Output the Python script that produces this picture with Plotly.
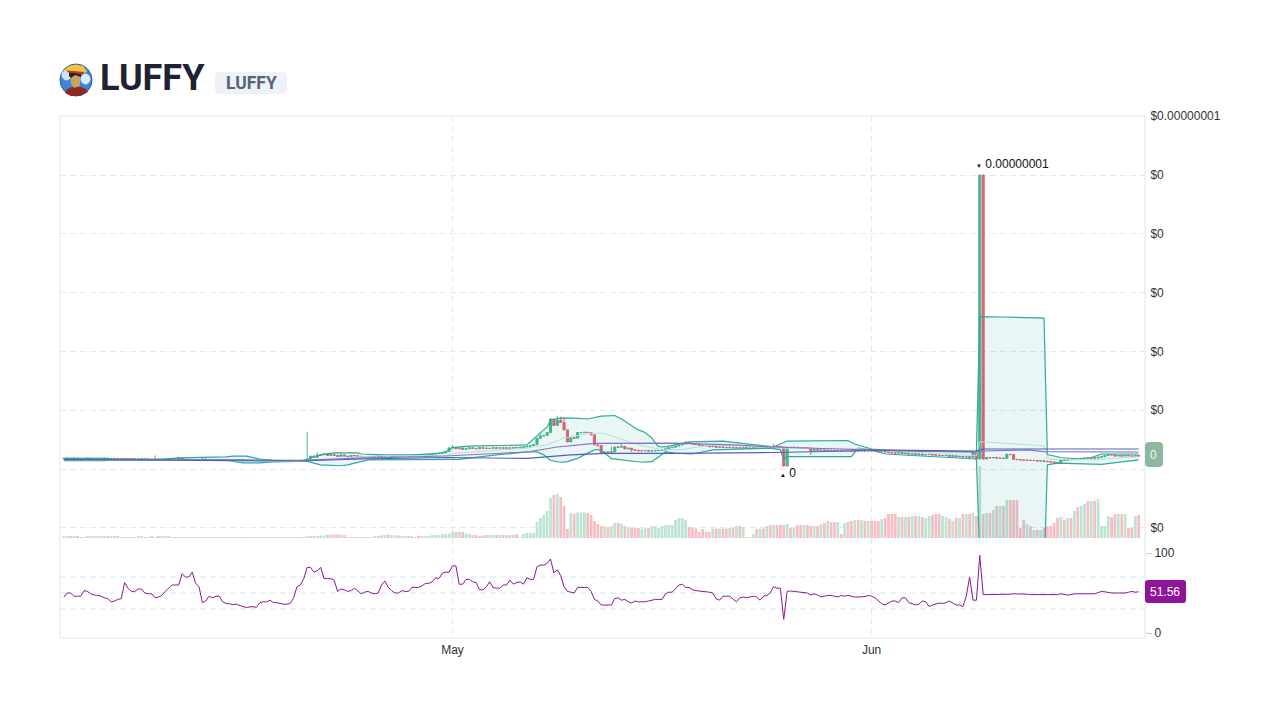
import pandas as pd
import plotly.graph_objects as go

# price values are in units of 1e-10 USD
closes = [
3.6,3.7,3.5,3.7,3.6,3.5,3.6,3.7,3.5,3.6,
3.6,3.5,3.7,3.5,3.6,3.6,3.5,3.4,3.6,3.5,
3.5,3.3,3.4,3.5,3.3,3.4,3.2,3.4,3.3,3.4,
3.3,3.5,3.4,3.2,3.9,3.3,3.2,3.3,3.1,3.2,
3.2,3.4,3.1,3.2,3.1,3.2,3.0,3.2,3.0,3.1,
3.1,3.0,3.2,3.0,2.9,3.0,2.9,3.0,2.8,2.9,
2.9,2.8,2.9,2.7,2.8,2.7,2.8,2.7,2.8,2.7,
2.8,2.7,3.4,4.4,4.0,4.6,4.9,5.2,4.6,4.9,
4.6,4.3,4.8,4.4,4.2,4.6,4.5,4.3,4.2,4.0,
4.2,4.0,4.1,4.4,4.0,4.1,3.9,4.2,4.6,4.4,
4.5,4.6,4.4,4.5,4.7,4.6,4.6,4.8,5.0,5.1,
5.3,5.4,5.5,6.0,7.2,7.4,6.9,7.1,6.7,6.9,
7.2,7.0,6.9,7.2,7.1,7.0,7.0,7.2,7.1,7.2,
7.1,7.2,7.0,7.3,7.2,7.4,7.5,7.7,8.0,8.3,
10.5,11.2,11.4,12.4,17.0,14.8,16.6,15.8,13.3,9.2,
10.6,10.5,12.4,12.4,12.5,12.4,11.6,8.2,8.0,5.5,
5.8,5.7,5.8,7.5,7.4,7.7,6.8,7.1,6.5,6.4,
6.2,6.2,6.3,6.1,6.2,6.2,6.3,6.4,6.9,7.2,
7.4,7.8,8.2,8.5,9.0,8.8,8.5,8.3,8.1,8.0,
7.9,7.6,7.8,7.4,7.5,7.4,7.3,7.4,7.2,7.2,
7.1,7.3,7.0,7.1,7.2,7.0,7.1,7.0,7.2,7.1,
7.8,7.6,7.5,1.0,7.4,7.3,7.4,7.2,7.1,7.2,
7.1,6.2,6.6,6.4,6.5,6.3,6.4,6.3,6.2,6.3,
6.2,6.3,6.2,6.1,6.2,6.1,6.2,6.1,6.2,6.1,
6.0,5.9,6.0,5.8,5.6,5.5,5.4,5.6,5.3,5.4,
5.1,5.2,4.9,5.1,4.8,4.9,5.0,4.8,4.7,4.6,
4.6,4.7,4.3,4.5,4.2,4.3,4.1,4.2,4.0,5.8,
3.4,100.0,3.4,3.9,3.8,3.9,3.7,3.7,3.6,5.0,
4.9,3.3,3.2,3.1,3.0,3.0,2.9,2.9,2.7,2.8,
2.6,2.5,2.4,2.1,2.0,3.1,3.0,3.3,3.2,3.6,
3.4,3.6,3.7,3.6,3.8,3.7,4.0,4.2,4.6,4.9,
4.8,4.4,4.6,4.4,4.7,4.5,4.3,4.6,4.4]
first_open = 3.6
wick_high = {27:4.6, 72:12.7, 75:5.6, 115:8.2, 141:11.8, 144:17.3, 146:18.0, 147:17.8, 148:17.4, 162:7.6, 165:8.4, 184:9.4, 210:8.6, 271:100.0}
wick_low = {145:14.8, 158:7.6, 168:5.8, 221:4.8, 272:3.2, 270:3.2}

volumes = [
1.5,1.5,1.5,1.5,1.5,1,1,1.5,1.5,1.5,
1.5,1.5,1.5,1.5,1.5,1.5,1.5,1,1,.5,
1,1,1.5,1.5,1,1,1.5,1,1.5,1.5,
1.5,1.5,1,1,1,1,.5,.5,.5,.5,
.5,.5,.5,.5,1,1,.5,.5,.5,.5,
.5,.5,.5,.5,.5,.5,.5,1,.5,.5,
.5,.5,.5,.5,.5,.5,.5,.5,.5,.5,
.5,1,1.5,1.5,2,2,2.5,2.5,3,3.5,
3.5,3.5,3.5,3,1,.5,.5,.5,1,1,
1,1,1.5,1.5,2.5,3,3.5,3,2.5,2.5,
2,1.5,1.5,1.5,1,1.5,1.5,2,2,3,
3,3,4,4,4.5,6,6,6.5,6,4.5,
4,3,3,2,2.5,3,3,3,3,3,
3,3,3,3,4,1,4,5,5,5,
16,20,23,27,40,43,44,41,32,9,
25,24,25.5,25.5,25.5,25,23,17,14,12,
12,11,12,15,15,14,12,11,10,10,
10,9.5,10,10,12,12,10,12,13,13,
13,18,20,20,18,11,10,9.5,6,9,
6.5,6,9.5,9.5,9.5,9.5,9.5,10,10,12,
12,11,1,1,4,9,9.5,9.5,12,13,
13,13,13,13,14,10,10,13,13,13,
13,12,12,12,14,15,17,16,16,16,
4,15,16,17,18,18,18,17,17,17,
17,17,19,20,24,24,24,21,21,21,
21,22,22,22,21,20,22,23,24,24,
22,21,19,17,20,20,24,24,24,25,
22,72,24,25,25,28,32,32,32,38,
38,38,38,10,18,14,12,8,8,8,
10,12,12,15,20,21,18,20,20,27,
31,32,34,37,37,37,39,12,12,22,
21,24,24,24,24,10,10,22,23]

rsi = [
45,50,50,46,46,46,53,52,49,47.5,
47,46,44,43,39,40,42,43,63,56,
52,52,55,55,50,49,49,44,45,47,
52,56,60,60,60,74,70,70,76,62,
58,38,40,46,44,46,46,39,37,36.5,
35.5,36,34,33,32,32.5,33,32,38,39,
39,41,38,38,37,36,36,37,44,58,
60,68,82,82,76,78,82,68,68,68,
66,52,55,54,52,53,56,53,49,51,
52,50,49,50,60,65,57,53,50,50,
53,52,52,57,57,57,59,62,62,64,
69,68,75,76,76,84,84,61,61,67,
67,64,63,54,54,57.5,64,57,56,56,
60,60,66,61,63,64,61,69,67,67,
83,85,85,87,92.5,75,79,72,58,52,
51,50,57,57,57,57,52,42,40,35,
35,35,35,43,44,41,42,39,37.5,40,
39,39,39,40,41,42,42,42,49,51,
51,56,60,61,57,57,54,53,52.5,52.5,
52,51,50,43,41,46,46,46,42.5,39,
44,45,44,45,46,45,41,46,47,50,
58,56,56,17,52,52.5,52,51,51,50,
50,47.5,49,47.5,45,46,47,47,46,45,
47,46,47,46,45,45,45,45.5,47,46,
44,40,36.5,35,38,40,40,38,44,44,
38,36,35,36,40,39,33,35,36,37.5,
37,38,40,38,35,35,33,46,70,41,
41,97,48,48,48,48,48,48,48.5,48.5,
48.5,49,49,49,48.5,48.5,48,48,48,48,
48,48,48,48,48,49,48.5,47.5,48,49,
49,49,49,49,49,49,50.5,52,51.5,50.5,
50,50,50,50,50,51,52,51,51.56]

upper_i = [0,12,15,29,32,37,48,50,54,58,62,70,72,73,76,80,87,88,95,103,111,113,115,120,137,140,143,144,147,151,155,159,163,165,167,170,172,174,175,176,178,185,195,205,210,212,214,232,234,239,248,270,271,278,290,291,295,300,304,307,318]
upper_v = [3.6,3.6,3.3,3.3,3.6,3.9,4.1,4.4,4.4,3.4,2.9,2.7,3.1,3.9,4.8,5.5,5.5,5.1,4.8,4.8,5.3,5.8,7.3,7.8,8.2,11.2,14.3,16.6,17.4,17.3,17.0,18.0,18.2,17.0,15.6,13.3,12.4,10.5,8.8,7.6,7.5,9.2,9.5,8.2,7.5,8.5,9.5,9.7,8.5,6.8,6.1,5.8,51.8,51.7,51.3,4.9,3.9,3.4,3.9,5.1,5.1]
lower_i = [0,12,15,29,37,48,53,58,62,70,72,74,76,82,84,90,103,111,117,128,137,140,142,144,147,149,152,154,157,158,160,162,166,171,174,176,178,181,186,192,199,209,212,213,214,233,235,239,243,259,267,270,271,290,291,294,307,318]
lower_v = [2.8,2.8,3.1,3.1,2.9,2.9,2.1,2.1,2.4,2.7,2.7,2.0,1.4,1.1,1.4,3.1,3.1,3.3,3.3,4.8,5.8,5.8,4.8,2.9,2.3,2.5,3.6,4.8,6.5,6.7,5.4,3.5,2.9,2.3,2.5,4.2,5.8,5.4,5.1,6.5,6.8,7.1,6.6,3.0,4.2,4.2,7.1,6.5,5.1,4.2,3.7,3.4,-30.3,-36.7,1.4,2.0,1.6,3.1]
mid_i = [0,70,72,80,92,113,115,137,143,148,155,160,164,170,176,182,192,209,214,233,239,270,271,290,291,304,318]
mid_v = [3.2,2.6,2.9,3.4,4.5,4.6,5.3,7.1,8.2,10.5,12.1,12.1,10.5,8.2,6.8,6.5,8.2,7.5,7.0,7.0,6.6,4.5,9.3,7.9,3.4,3.1,4.2]
ma_a_i = [0,40,70,88,113,137,146,157,181,198,210,248,270,272,285,290,318]
ma_a_v = [3.3,3.2,3.0,3.7,4.4,5.8,7.5,8.7,8.8,8.2,7.5,6.1,5.8,6.1,6.5,5.9,5.8]
ma_b_i = [0,70,88,113,137,150,160,181,210,233,239,270,272,318]
ma_b_v = [3.2,2.7,3.4,3.9,3.6,4.8,5.3,5.3,5.6,6.1,6.5,6.1,6.8,6.8]

price_ticks = [-20,0,20,40,60,80,100,120]
price_labels = ["$0","","$0","$0","$0","$0","$0","$0.00000001"]
month_ticks = ["2023-05-01","2023-06-01"]
month_labels = ["May","Jun"]

PANE_L, PANE_R, PANE_T, PANE_M, PANE_B = 60, 1145, 116, 538, 638
W, H = 1280, 720
GREEN, RED = "#45b68d", "#e85d70"
VOL_G, VOL_R = "#bbe4d2", "#f8bcc3"
TEAL = "#2fa99b"
GRID = "#e8e8e8"
PURPLE = "#8e1599"
FONT = "Liberation Sans, Arial, sans-serif"
TXT = "#333333"

def X(p): return p / W
def Y(p): return 1 - p / H

t0 = pd.Timestamp("2023-04-02 06:00")
dates = [t0 + pd.Timedelta(hours=6 * i) for i in range(len(closes))]
def dt(indices): return [t0 + pd.Timedelta(hours=6 * i) for i in indices]
opens = [first_open] + closes[:-1]
highs = [wick_high.get(i, max(o, c)) for i, (o, c) in enumerate(zip(opens, closes))]
lows = [wick_low.get(i, min(o, c)) for i, (o, c) in enumerate(zip(opens, closes))]
vol_colors = [VOL_G if c >= o else VOL_R for o, c in zip(opens, closes)]

fig = go.Figure()
fig.add_trace(go.Bar(x=dates, y=volumes, marker=dict(color=vol_colors, line_width=0), yaxis="y", xaxis="x", width=6 * 3600 * 1000 * 0.8))
fig.add_trace(go.Candlestick(x=dates, open=opens, high=highs, low=lows, close=closes, yaxis="y2", xaxis="x",
    increasing=dict(line=dict(color=GREEN, width=1), fillcolor=GREEN),
    decreasing=dict(line=dict(color=RED, width=1), fillcolor=RED), whiskerwidth=0))
fig.add_trace(go.Scatter(x=dt(lower_i), y=lower_v, mode="lines", line=dict(color=TEAL, width=1.2), yaxis="y2", xaxis="x"))
fig.add_trace(go.Scatter(x=dt(upper_i), y=upper_v, mode="lines", line=dict(color=TEAL, width=1.2), fill="tonexty", fillcolor="rgba(38,166,154,0.1)", yaxis="y2", xaxis="x"))
fig.add_trace(go.Scatter(x=dt(mid_i), y=mid_v, mode="lines", line=dict(color="#b2e2d9", width=1), yaxis="y2", xaxis="x"))
fig.add_trace(go.Scatter(x=dt(ma_a_i), y=ma_a_v, mode="lines", line=dict(color="#8a72c8", width=1.1), yaxis="y2", xaxis="x"))
fig.add_trace(go.Scatter(x=dt(ma_b_i), y=ma_b_v, mode="lines", line=dict(color="#5060b8", width=1.1), yaxis="y2", xaxis="x"))
fig.add_trace(go.Scatter(x=dates, y=rsi, mode="lines", line=dict(color=PURPLE, width=1), yaxis="y3", xaxis="x2"))

ORIGIN = 63.8
x_range = [t0 + pd.Timedelta(hours=6 * (PANE_L - ORIGIN) / 3.38), t0 + pd.Timedelta(hours=6 * (PANE_R - ORIGIN) / 3.38)]
grid_x = dict(showgrid=True, gridcolor=GRID, griddash="6px,4px", gridwidth=1, tickvals=month_ticks, range=x_range, type="date",
              showline=False, zeroline=False, ticks="", automargin=False)
shapes = []
# pane frame
shapes.append(dict(type="rect", xref="paper", yref="paper", x0=X(PANE_L), x1=X(PANE_R), y0=Y(PANE_B), y1=Y(PANE_T), line=dict(color="#e4e4e4", width=1), layer="below"))
# RSI bands
for lv in (30, 50, 70):
    shapes.append(dict(type="line", xref="paper", yref="y3", x0=X(PANE_L), x1=X(PANE_R), y0=lv, y1=lv, line=dict(color="#d2eaf6", width=1, dash="6px,4px"), layer="below"))

def rrect(x0, y0, x1, y1, r, fill):
    rx, ry = r / W, r / H
    a, b, c, d = X(x0), X(x1), Y(y0), Y(y1)
    path = (f"M {a+rx} {c} L {b-rx} {c} Q {b} {c} {b} {c-ry} L {b} {d+ry} Q {b} {d} {b-rx} {d} "
            f"L {a+rx} {d} Q {a} {d} {a} {d+ry} L {a} {c-ry} Q {a} {c} {a+rx} {c} Z")
    return dict(type="path", xref="paper", yref="paper", path=path, fillcolor=fill, line=dict(width=0))

shapes.append(rrect(215, 72, 287, 94, 5, "#eef1f5"))
shapes.append(rrect(1145, 442, 1163, 467, 4, "#8cb89f"))
shapes.append(rrect(1145, 580, 1186, 603, 3, PURPLE))

def ellipse(x0, y0, x1, y1, fill, lc=None):
    return dict(type="circle", xref="paper", yref="paper", x0=X(x0), x1=X(x1), y0=Y(y1), y1=Y(y0), fillcolor=fill, line=dict(color=lc or fill, width=1))
def poly(pts, fill):
    path = "M " + " L ".join(f"{X(a)} {Y(b)}" for a, b in pts) + " Z"
    return dict(type="path", xref="paper", yref="paper", path=path, fillcolor=fill, line=dict(width=0))

# small round avatar
shapes.append(ellipse(60, 64, 92, 96, "#3f86d6", "#2a5fa8"))
shapes.append(ellipse(62, 70, 71, 80, "#cfe3f6"))
shapes.append(ellipse(81, 74, 90, 84, "#dcebf8"))
shapes.append(poly([(65, 93), (67, 89), (72, 87), (81, 87), (86, 89), (88, 92), (80, 96), (71, 96)], "#8a2a1c"))
shapes.append(poly([(70, 73), (80, 74), (80, 86), (74, 88), (71, 84)], "#c9a35f"))
shapes.append(poly([(69, 72), (81, 74), (81, 77), (75, 75), (71, 78), (69, 76)], "#27201c"))
shapes.append(poly([(64, 70), (69, 66), (76, 64.5), (83, 66), (87, 71), (84, 74), (74, 71), (67, 72)], "#f2c43a"))
shapes.append(poly([(67, 70.5), (84, 72), (84, 74), (68, 72.5)], "#c5332b"))

annos = [
    dict(text="<b>LUFFY</b>", xref="paper", yref="paper", x=X(98), y=Y(78), xanchor="left", yanchor="middle", showarrow=False,
         font=dict(family="Roboto, sans-serif", size=36, color="#1f2233")),
    dict(text="<b>LUFFY</b>", xref="paper", yref="paper", x=X(251), y=Y(83), xanchor="center", yanchor="middle", showarrow=False,
         font=dict(family="Roboto, sans-serif", size=17.5, color="#56637d")),
    dict(text="0", xref="paper", yref="paper", x=X(1153.5), y=Y(455), xanchor="center", yanchor="middle", showarrow=False,
         font=dict(family=FONT, size=12, color="#f3f7f4")),
    dict(text="51.56", xref="paper", yref="paper", x=X(1165), y=Y(592), xanchor="center", yanchor="middle", showarrow=False,
         font=dict(family=FONT, size=12, color="#ffffff")),
    dict(text='<span style="font-size:6px">▼</span> 0.00000001', xref="x", yref="y2", x=dates[271], y=closes[271], yshift=11, xshift=-6,
         xanchor="left", yanchor="middle", showarrow=False, font=dict(family=FONT, size=12, color="#111111")),
    dict(text='<span style="font-size:6px">▲</span> 0', xref="x", yref="y2", x=dates[213], y=closes[213], yshift=-7, xshift=-6,
         xanchor="left", yanchor="middle", showarrow=False, font=dict(family=FONT, size=12, color="#111111")),
]

# top of pane = 120, 0 at py 469, 20 units per 58.8 px
price_range = [(469 - PANE_M) * 20 / 58.8, (469 - PANE_T) * 20 / 58.8]
rsi_range = [(633 - PANE_B) / 0.8, (633 - PANE_M) / 0.8]

fig.update_layout(
    width=W, height=H, autosize=False, margin=dict(l=0, r=0, t=0, b=0), showlegend=False,
    paper_bgcolor="#ffffff", plot_bgcolor="#ffffff", bargap=0.2, boxgap=0.12,
    font=dict(family=FONT, size=12, color=TXT), shapes=shapes, annotations=annos,
    xaxis=dict(domain=[X(PANE_L), X(PANE_R)], anchor="y", showticklabels=False, rangeslider=dict(visible=False), **grid_x),
    xaxis2=dict(domain=[X(PANE_L), X(PANE_R)], anchor="y3", showticklabels=True, ticktext=month_labels, ticklabelstandoff=3,
                tickfont=dict(family=FONT, size=12, color=TXT), **grid_x),
    yaxis=dict(domain=[Y(PANE_M), Y(PANE_T)], range=[0, PANE_M - PANE_T], visible=False, showgrid=False, fixedrange=True, automargin=False),
    yaxis2=dict(domain=[Y(PANE_M), Y(PANE_T)], overlaying="y", anchor="x", side="right", range=price_range, automargin=False,
                tickvals=price_ticks, ticktext=price_labels, showgrid=True, gridcolor=GRID, griddash="6px,4px", zeroline=False,
                showline=False, ticks="outside", ticklen=2, tickcolor="rgba(0,0,0,0)", tickfont=dict(family=FONT, size=12, color=TXT)),
    yaxis3=dict(domain=[Y(PANE_B), Y(PANE_M)], anchor="x2", side="right", range=rsi_range, tickvals=[0, 100], showgrid=False, automargin=False,
                zeroline=False, showline=False, ticks="outside", ticklen=6, tickcolor="#cccccc", tickfont=dict(family=FONT, size=12, color=TXT)),
)

fig.write_html("out.html", config=dict(displayModeBar=False), post_script="document.body.style.margin='0';document.body.style.overflow='hidden';")
